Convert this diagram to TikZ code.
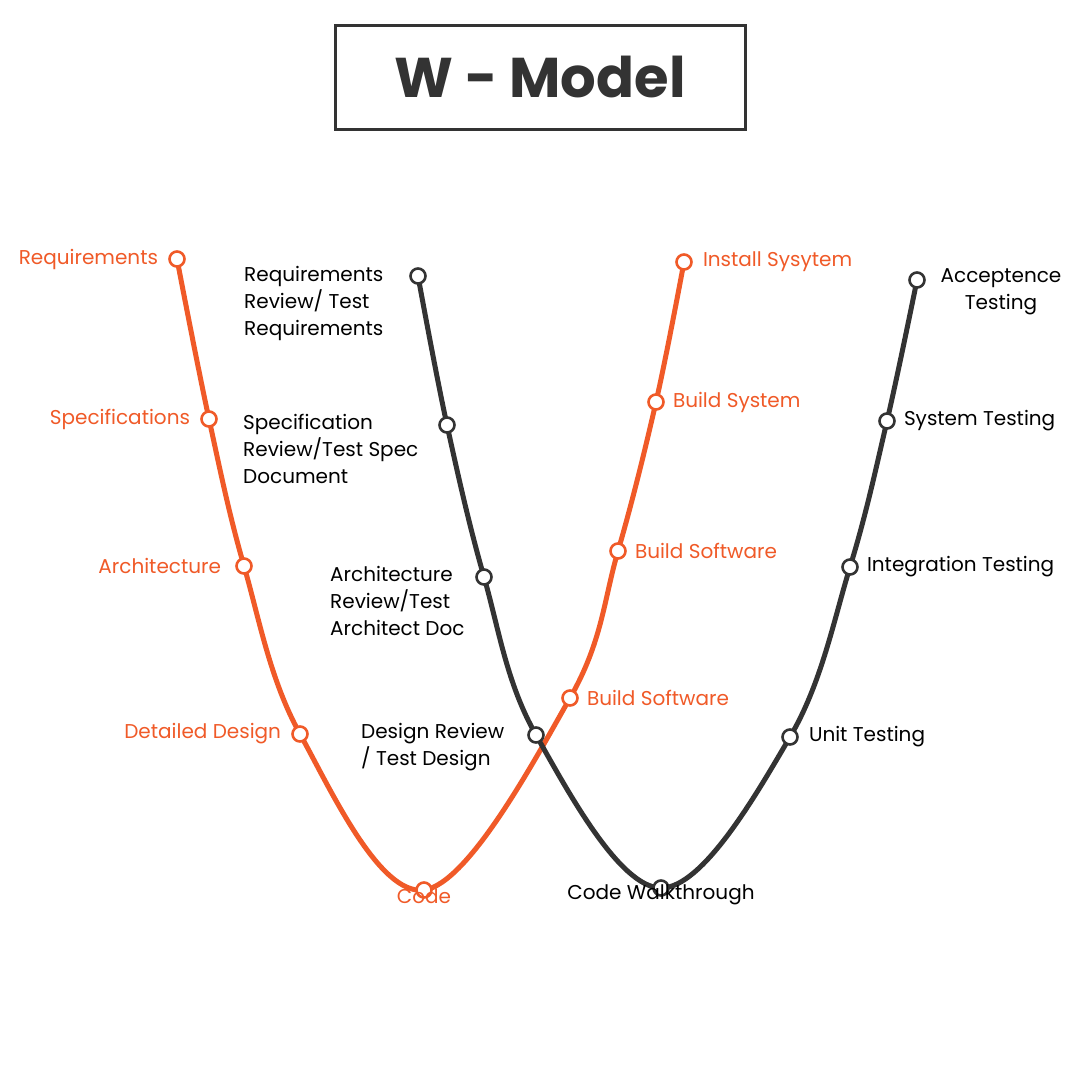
\documentclass[tikz,border=0pt]{standalone}
\usepackage{fontspec}
\setmainfont{Poppins}
\definecolor{org}{HTML}{F05A28}
\definecolor{drk}{HTML}{333333}
\begin{document}
\begin{tikzpicture}[x=1pt,y=-1pt,
  pt/.style={circle,draw,fill=white,line width=2.6pt,inner sep=0pt,minimum size=15pt},
  lab/.style={font=\fontsize{20}{27}\selectfont,inner sep=0pt},
  ml/.style={lab,align=left,anchor=north west}]
\useasboundingbox[fill=white] (0,0) rectangle (1080,1080);
\node[draw=drk,line width=3pt,minimum width=410pt,minimum height=104pt,text=drk,font=\fontsize{56}{60}\selectfont\bfseries] (title) at (540,77) {W - Model\hspace{20pt}};
\draw[org,line width=5pt] plot[smooth,tension=0.6] coordinates {(177,259)(209,419)(244,566)(300,734)(424,890)(570,698)(618,551)(656,402)(684,262)};
\draw[drk,line width=5pt] plot[smooth,tension=0.6] coordinates {(418,276)(447,425)(484,577)(536,735)(661,888)(790,737)(850,567)(887,421)(917,280)};
\foreach \n/\x/\y in {o1/177/259,o2/209/419,o3/244/566,o4/300/734,o5/424/890,o6/570/698,o7/618/551,o8/656/402,o9/684/262}
  \node[pt,draw=org] (\n) at (\x,\y) {};
\foreach \n/\x/\y in {b1/418/276,b2/447/425,b3/484/577,b4/536/735,b5/661/888,b6/790/737,b7/850/567,b8/887/421,b9/917/280}
  \node[pt,draw=drk] (\n) at (\x,\y) {};
\begin{scope}[every node/.append style={lab,text=org}]
\node[anchor=east] (l1) at ([xshift=-10pt]o1.west) {Requirements};
\node[anchor=east] (l2) at ([xshift=-10pt]o2.west) {Specifications};
\node[anchor=east] (l3) at ([xshift=-14pt]o3.west) {Architecture};
\node[anchor=east] (l4) at ([xshift=-10pt]o4.west) {Detailed Design};
\node[anchor=north] (l5) at ([yshift=10pt]o5.south) {Code};
\node[anchor=west] (l6) at ([xshift=8pt]o6.east) {Build Software};
\node[anchor=west] (l7) at ([xshift=8pt]o7.east) {Build Software};
\node[anchor=west] (l8) at ([xshift=8pt]o8.east) {Build System};
\node[anchor=west] (l9) at ([xshift=10pt]o9.east) {Install Sysytem};
\end{scope}
\begin{scope}[every node/.append style={text=black}]
\node[ml] (m1) at (244,266) {Requirements\\Review/ Test\\Requirements};
\node[ml] (m2) at (243,414) {Specification\\Review/Test Spec\\Document};
\node[ml] (m3) at (330,566) {Architecture\\Review/Test\\Architect Doc};
\node[ml] (m4) at (361,723) {Design Review\\/ Test Design};
\node[lab,anchor=north] (m5) at ([yshift=12pt]b5.south) {Code Walkthrough};
\node[lab,anchor=west] (m6) at ([xshift=10pt]b6.east) {Unit Testing};
\node[lab,anchor=west] (m7) at ([xshift=8pt]b7.east) {Integration Testing};
\node[lab,anchor=west] (m8) at ([xshift=8pt]b8.east) {System Testing};
\node[lab,align=center,anchor=north] (m9) at (1001,268) {Acceptence\\Testing};
\end{scope}
\end{tikzpicture}
\end{document}
